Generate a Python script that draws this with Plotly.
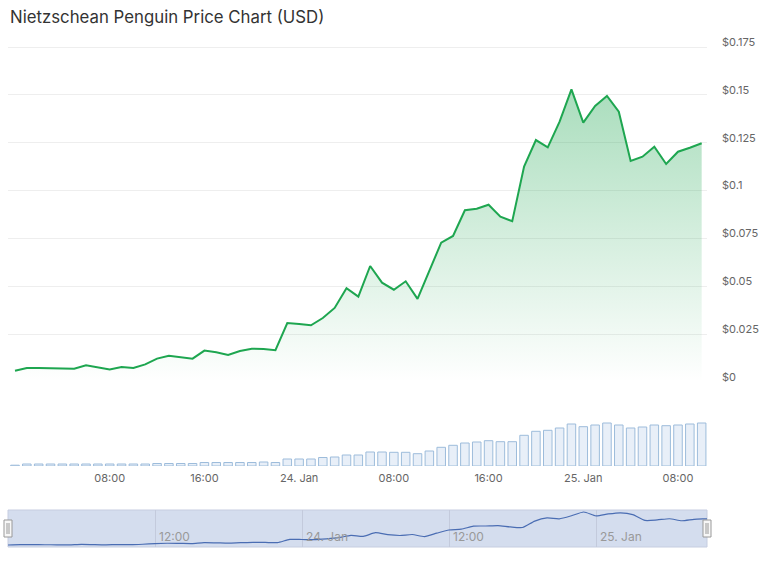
import pandas as pd
import plotly.graph_objects as go

# ---------------- data ----------------
start = pd.Timestamp("2025-01-23 00:00")
times = pd.date_range(start, periods=59, freq="h")

price = [0.0059, 0.0073, 0.0073, 0.0071, 0.0068, 0.0069, 0.0087, 0.0075, 0.0066, 0.0078,
         0.0073, 0.0092, 0.0122, 0.0137, 0.0131, 0.0122, 0.0164, 0.0155, 0.0141, 0.0162,
         0.0174, 0.0172, 0.0166, 0.0308, 0.0303, 0.0296, 0.0334, 0.0387, 0.0490, 0.0446,
         0.0606, 0.0519, 0.0482, 0.0526, 0.0434, 0.0585, 0.0728, 0.0763, 0.0897, 0.0905,
         0.0926, 0.0864, 0.0840, 0.1125, 0.1264, 0.1226, 0.1360, 0.1529, 0.1355, 0.1442,
         0.1494, 0.1412, 0.1155, 0.1177, 0.1229, 0.1139, 0.1203, 0.1224, 0.1247]

volume = [0.8, 2, 2, 2, 2, 2, 2, 2, 2, 2,
          2, 2, 2.5, 2.5, 2.5, 2.5, 3.5, 3.5, 3.5, 3.5,
          3.5, 4, 3.5, 7, 7, 7, 8.5, 9, 11, 11,
          14, 14, 13.7, 13.7, 12.3, 15, 18.7, 20.7, 23, 24,
          25.3, 24.3, 24.3, 30.7, 34.7, 35.7, 38, 42, 39.3, 41,
          43, 41, 38, 39, 41, 40.3, 41, 42, 43]

price_tickvals = [0, 0.025, 0.05, 0.075, 0.1, 0.125, 0.15, 0.175]
price_ticktext = ["$0", "$0.025", "$0.05", "$0.075", "$0.1", "$0.125", "$0.15", "$0.175"]

x_tickvals = ["2025-01-23 08:00", "2025-01-23 16:00", "2025-01-24 00:00", "2025-01-24 08:00",
              "2025-01-24 16:00", "2025-01-25 00:00", "2025-01-25 08:00"]
x_ticktext = ["08:00", "16:00", "24. Jan", "08:00", "16:00", "25. Jan", "08:00"]

nav_tickvals = ["2025-01-23 12:00", "2025-01-24 00:00", "2025-01-24 12:00", "2025-01-25 00:00"]
nav_ticktext = ["12:00", "24. Jan", "12:00", "25. Jan"]

title = "Nietzschean Penguin Price Chart (USD)"

# ---------------- layout constants ----------------
W, H = 768, 561
FONT = "Inter"
GREEN = "#1ea650"


def py(px):
    return 1 - px / H


x_dom = [8 / W, 707 / W]
x_range = [start - pd.Timedelta(hours=0.59), start + pd.Timedelta(hours=58.45)]
nav_range = [start, start + pd.Timedelta(hours=57.06)]

fig = go.Figure()

fig.add_trace(go.Scatter(
    x=times, y=price, mode="lines", line=dict(color=GREEN, width=2),
    fill="tozeroy",
    fillgradient=dict(type="vertical",
                      colorscale=[[0, "rgba(30,166,80,0)"], [1, "rgba(30,166,80,0.38)"]],
                      start=0, stop=max(price)),
    xaxis="x", yaxis="y", hoverinfo="skip", showlegend=False))

fig.add_trace(go.Bar(
    x=times, y=volume, width=0.72 * 3600 * 1000,
    marker=dict(color="#e8eff8", line=dict(color="#9dbcdb", width=1)),
    xaxis="x2", yaxis="y2", hoverinfo="skip", showlegend=False))

fig.add_trace(go.Scatter(
    x=times, y=price, mode="lines", line=dict(color="#4a6db3", width=1.2, shape="spline", smoothing=0.6),
    xaxis="x3", yaxis="y3", hoverinfo="skip", showlegend=False))

axis_font = dict(family=FONT, size=11, color="#666666")

fig.update_layout(
    width=W, height=H, margin=dict(l=0, r=0, t=0, b=0, autoexpand=False),
    paper_bgcolor="white", plot_bgcolor="rgba(0,0,0,0)",
    font=dict(family=FONT),
    title=dict(text=title, x=10 / W, xanchor="left", xref="paper",
               y=py(17), yanchor="middle", yref="paper", automargin=False,
               font=dict(family=FONT, size=16.8, color="#333333")),
    xaxis=dict(domain=x_dom, range=x_range, anchor="y", showgrid=False, showticklabels=False,
               showline=False, zeroline=False, ticks="", automargin=False),
    yaxis=dict(domain=[py(382), py(40)], range=[0, 0.17866], side="right", anchor="x",
               tickvals=price_tickvals, ticktext=price_ticktext, tickfont=axis_font,
               showgrid=True, gridcolor="#eeeeee", gridwidth=1, zeroline=False, showline=False,
               ticks="", ticklabelstandoff=14, ticklabelshift=-5, automargin=False),
    xaxis2=dict(domain=x_dom, range=x_range, anchor="y2", matches="x", showgrid=False,
                tickvals=x_tickvals, ticktext=x_ticktext, tickfont=axis_font,
                showline=False, zeroline=False, ticks="", ticklabelstandoff=4, automargin=False),
    yaxis2=dict(domain=[py(466), py(390)], range=[0, 76], anchor="x2", visible=False,
                automargin=False),
    xaxis3=dict(domain=x_dom, range=nav_range, anchor="y3", tickvals=nav_tickvals,
                showticklabels=False, showgrid=True, gridcolor="#c3cadc", gridwidth=1,
                zeroline=False, showline=False, ticks="", automargin=False),
    yaxis3=dict(domain=[py(547), py(510)], range=[-0.003, 0.1618], anchor="x3", visible=False,
                automargin=False),
)

# navigator mask
fig.add_shape(type="rect", xref="x3 domain", yref="y3 domain", x0=0, x1=1, y0=0, y1=1,
              fillcolor="rgba(102,133,194,0.28)", line=dict(color="#c6cde0", width=1), layer="below")

# navigator labels
for v, t in zip(nav_tickvals, nav_ticktext):
    fig.add_annotation(x=v, y=0, xref="x3", yref="y3 domain", text=t, showarrow=False,
                       xanchor="left", yanchor="bottom", xshift=2, yshift=1,
                       font=dict(family=FONT, size=12, color="#999999"))

# navigator handles
for hx in (0, 1):
    fig.add_shape(type="rect", xref="x3 domain", yref="paper", xsizemode="pixel", xanchor=hx,
                  x0=-4, x1=4, y0=py(537), y1=py(520), fillcolor="#f7f7f7",
                  line=dict(color="#999999", width=1), layer="above")
    for dx in (-1, 1):
        fig.add_shape(type="line", xref="x3 domain", yref="paper", xsizemode="pixel", xanchor=hx,
                      x0=dx, x1=dx, y0=py(534), y1=py(523),
                      line=dict(color="#999999", width=1), layer="above")

fig.write_html("out.html")
